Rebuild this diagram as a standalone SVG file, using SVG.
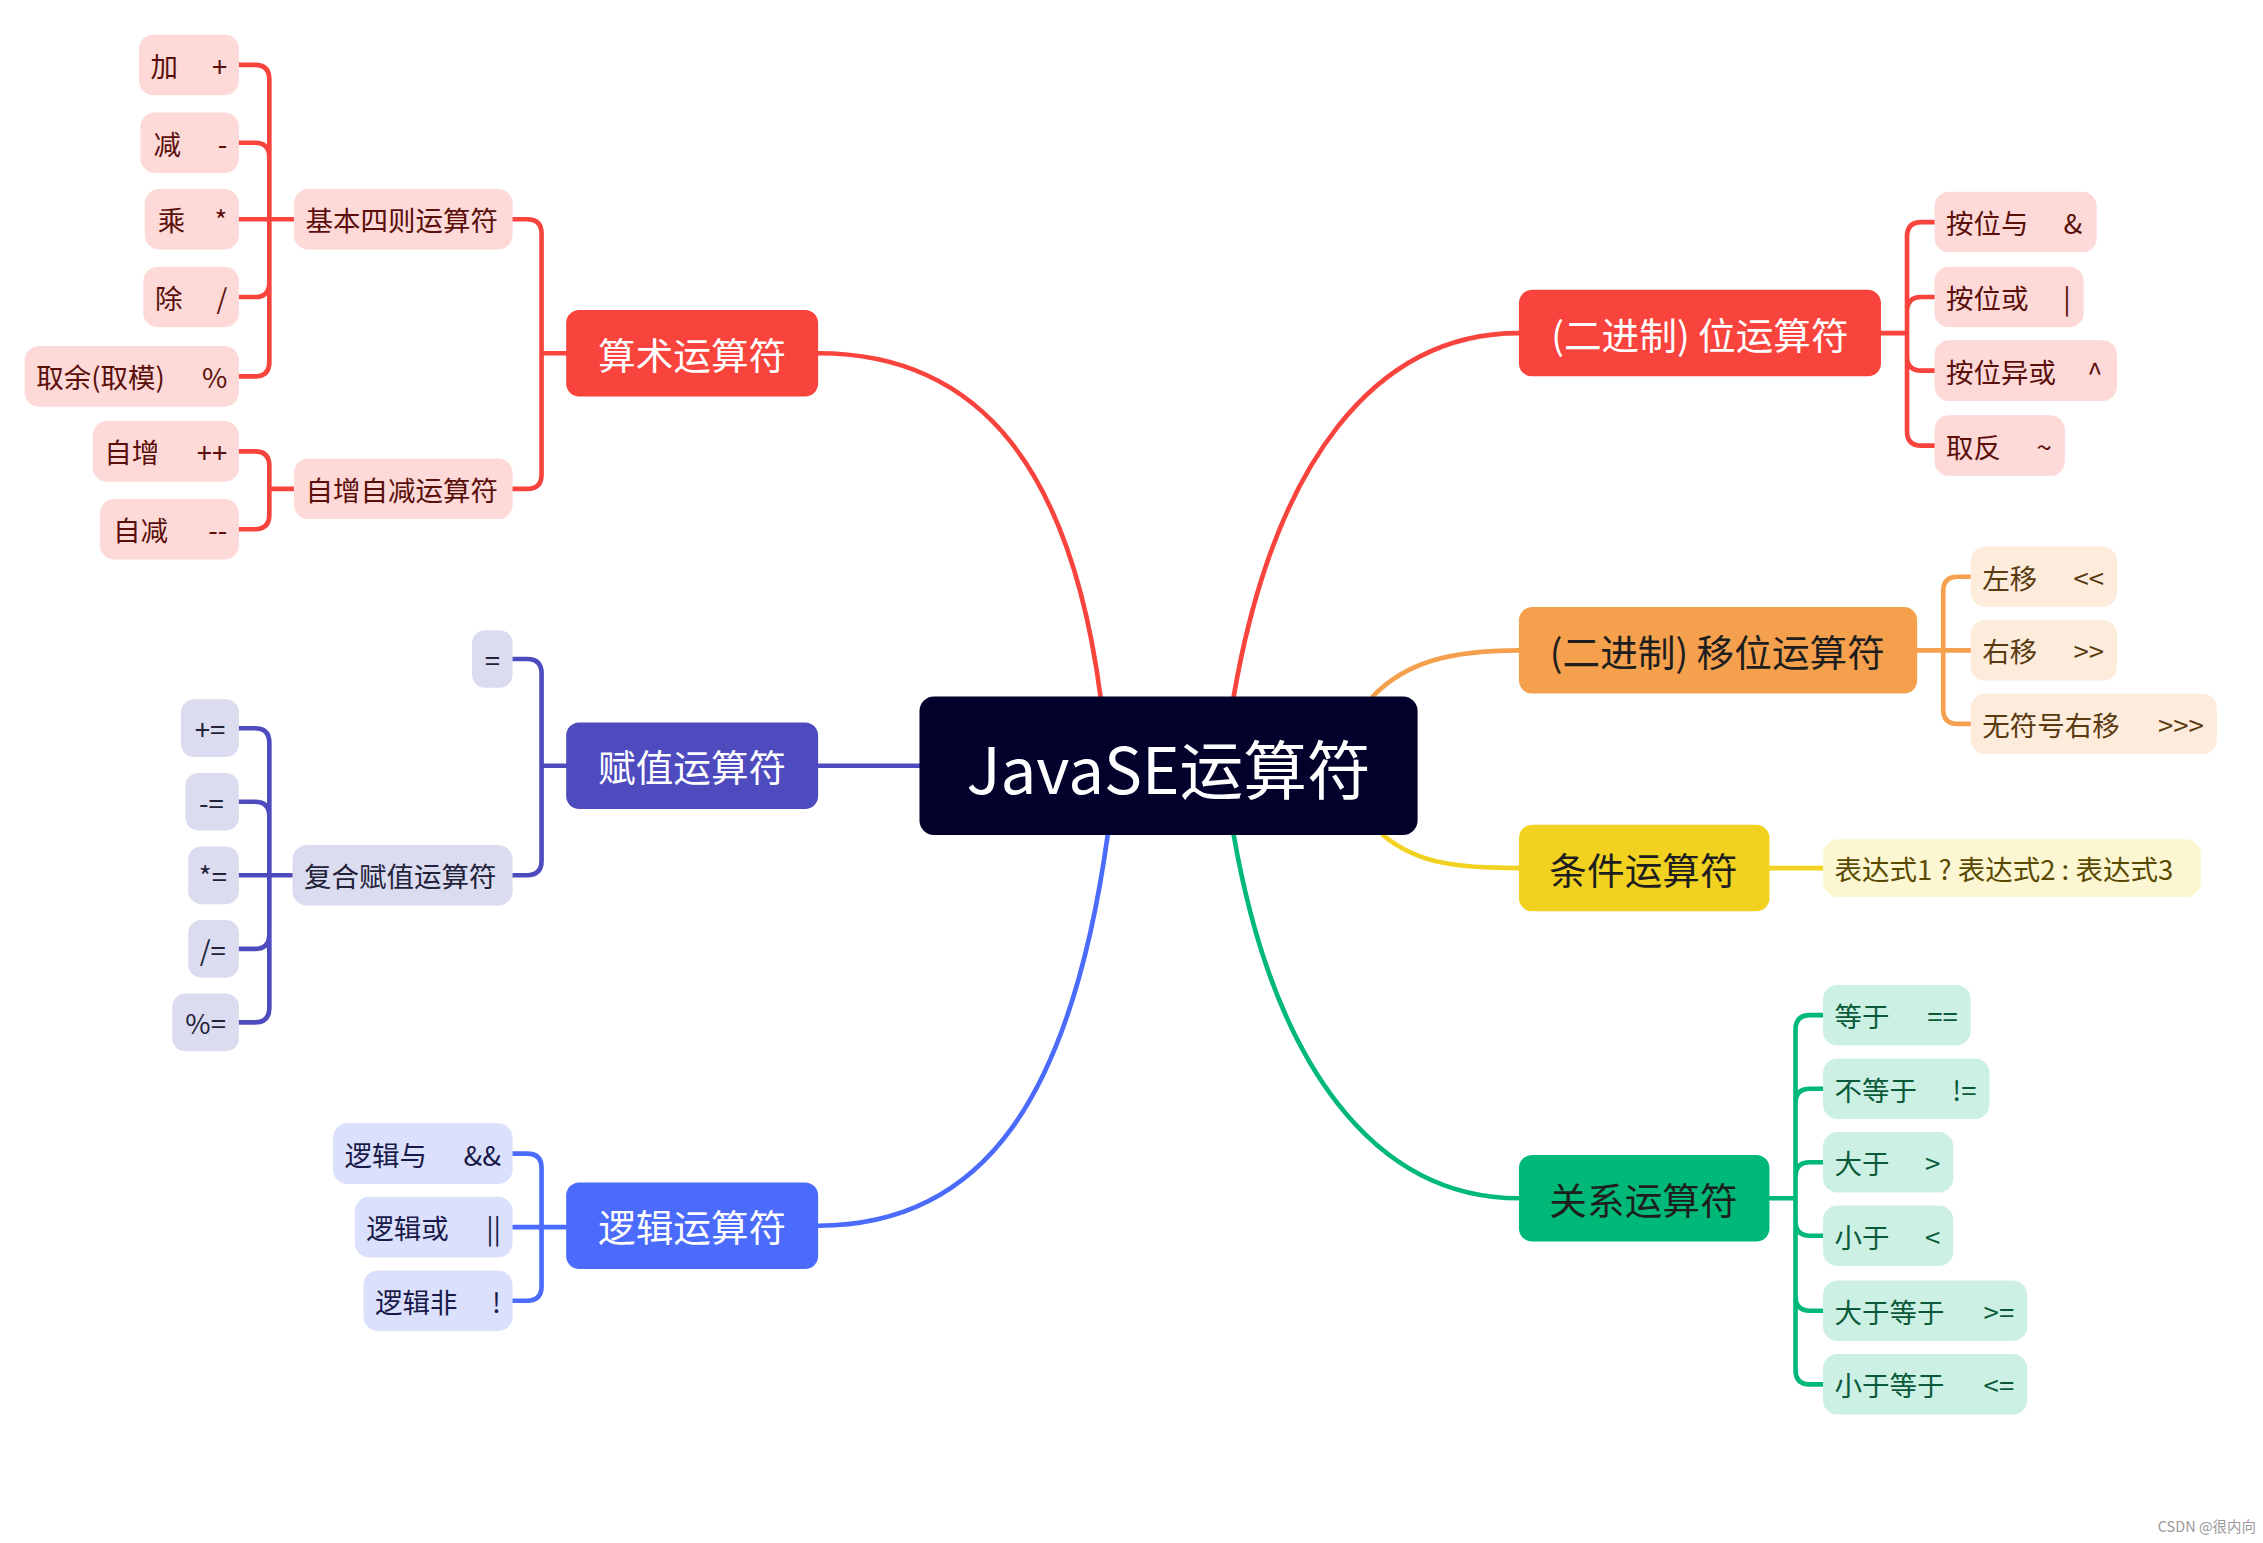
<svg xmlns="http://www.w3.org/2000/svg" width="2263" height="1543" viewBox="0 0 2263 1543">
<style>
text{font-family:"Noto Sans CJK SC","Noto Sans",sans-serif;dominant-baseline:central}
.c{fill:none;stroke-width:3.2;stroke-linecap:round}
.m{font-size:26px;text-anchor:middle}
.l{font-size:19px}
.r{font-size:19px;text-anchor:end}
.red{stroke:#f9433d}.pur{stroke:#4e4bbf}.blu{stroke:#4a6bfc}.ora{stroke:#f4a04c}.yel{stroke:#f2d220}.grn{stroke:#00b877}
.pk rect{fill:#fdd9d8}.pk text{fill:#5a0f0a}
.lv rect{fill:#dcdcf0}.lv text{fill:#22223a}
.lb rect{fill:#dbe1fd}.lb text{fill:#1a1a4a}
.or rect{fill:#fdebdb}.or text{fill:#5a3a10}
.ye rect{fill:#fdf6d3}.ye text{fill:#5a4a00}
.gr rect{fill:#ccf1e4}.gr text{fill:#0a5a3a}
</style>
<rect width="2263" height="1543" fill="#fff"/>
<g transform="scale(1.448,1.442)">
<g id="connectors">
<path class="c red" d="M760,483 C740,330 680,245 565,245"/>
<path class="c pur" d="M565,531 H635"/>
<path class="c blu" d="M765,579 C740,760 680,850 565,850"/>
<path class="c red" d="M852,483 C880,320 950,231 1049,231"/>
<path class="c ora" d="M948,483 C970,460 1000,451 1049,451"/>
<path class="c yel" d="M955,579 C980,600 1010,602 1049,602"/>
<path class="c grn" d="M852,579 C880,740 950,831 1049,831"/>
<path class="c red" d="M391,245 H374 M354,152 H364 Q374,152 374,162 V329 Q374,339 364,339 H354"/>
<path class="c red" d="M203,152 H165 M165,45 H176 Q186,45 186,55 V251 Q186,261 176,261 H165 M165,99 H176 Q186,99 186,109 M165,206 H176 Q186,206 186,196"/>
<path class="c red" d="M203,339 H186 M165,313 H176 Q186,313 186,323 V357 Q186,367 176,367 H165"/>
<path class="c pur" d="M391,531 H374 M354,457 H364 Q374,457 374,467 V597 Q374,607 364,607 H354"/>
<path class="c pur" d="M202,607 H165 M165,505 H176 Q186,505 186,515 V699 Q186,709 176,709 H165 M165,556 H176 Q186,556 186,566 M165,658 H176 Q186,658 186,648"/>
<path class="c blu" d="M391,851 H354 M354,800 H364 Q374,800 374,810 V892 Q374,902 364,902 H354"/>
<path class="c red" d="M1299,231 H1317 M1336,154 H1327 Q1317,154 1317,164 V299 Q1317,309 1327,309 H1336 M1336,206 H1327 Q1317,206 1317,216 M1336,257 H1327 Q1317,257 1317,247"/>
<path class="c ora" d="M1324,451 H1361 M1361,400 H1352 Q1342,400 1342,410 V492 Q1342,502 1352,502 H1361"/>
<path class="c yel" d="M1222,602 H1259"/>
<path class="c grn" d="M1222,831 H1240 M1259,704 H1250 Q1240,704 1240,714 V950 Q1240,960 1250,960 H1259 M1259,755 H1250 Q1240,755 1240,765 M1259,806 H1250 Q1240,806 1240,816 M1259,857 H1250 Q1240,857 1240,847 M1259,909 H1250 Q1240,909 1240,899"/>
</g>
<g id="root"><rect x="635" y="483" width="344" height="96" rx="10" fill="#01012b"/><text x="807" y="531" font-size="44" text-anchor="middle" fill="#fff">JavaSE运算符</text></g>
<g id="arith"><rect x="391" y="215" width="174" height="60" rx="9" fill="#f9433d"/><text class="m" x="478" y="245" fill="#fff">算术运算符</text></g>
<g id="assign"><rect x="391" y="501" width="174" height="60" rx="9" fill="#4e4bbf"/><text class="m" x="478" y="531" fill="#fff">赋值运算符</text></g>
<g id="logic"><rect x="391" y="820" width="174" height="60" rx="9" fill="#4a6bfc"/><text class="m" x="478" y="850" fill="#fff">逻辑运算符</text></g>
<g id="bit"><rect x="1049" y="201" width="250" height="60" rx="9" fill="#f9433d"/><text class="m" x="1174" y="231" fill="#fff">(二进制) 位运算符</text></g>
<g id="shift"><rect x="1049" y="421" width="275" height="60" rx="9" fill="#f4a04c"/><text class="m" x="1186" y="451" fill="#1e1e1e">(二进制) 移位运算符</text></g>
<g id="cond"><rect x="1049" y="572" width="173" height="60" rx="9" fill="#f2d220"/><text class="m" x="1135" y="602" fill="#1e1e1e">条件运算符</text></g>
<g id="rel"><rect x="1049" y="801" width="173" height="60" rx="9" fill="#00b877"/><text class="m" x="1135" y="831" fill="#1e1e1e">关系运算符</text></g>

<g class="pk">
<g id="basic4"><rect x="203" y="131" width="151" height="42" rx="10"/><text class="l" x="211" y="152">基本四则运算符</text></g>
<g id="incdec"><rect x="203" y="318" width="151" height="42" rx="10"/><text class="l" x="211" y="339">自增自减运算符</text></g>
<g id="add"><rect x="96" y="24" width="69" height="42" rx="10"/><text class="l" x="104" y="45">加</text><text class="r" x="157" y="45">+</text></g>
<g id="sub"><rect x="97" y="78" width="68" height="42" rx="10"/><text class="l" x="106" y="99">减</text><text class="r" x="157" y="99">-</text></g>
<g id="mul"><rect x="100" y="131" width="65" height="42" rx="10"/><text class="l" x="109" y="152">乘</text><text class="r" x="157" y="152">*</text></g>
<g id="div"><rect x="99" y="185" width="66" height="42" rx="10"/><text class="l" x="107" y="206">除</text><text class="r" x="157" y="206">/</text></g>
<g id="mod"><rect x="17" y="240" width="148" height="42" rx="10"/><text class="l" x="25" y="261">取余(取模)</text><text class="r" x="157" y="261">%</text></g>
<g id="inc"><rect x="64" y="292" width="101" height="42" rx="10"/><text class="l" x="72" y="313">自增</text><text class="r" x="157" y="313">++</text></g>
<g id="dec"><rect x="69" y="346" width="96" height="42" rx="10"/><text class="l" x="78" y="367">自减</text><text class="r" x="157" y="367">--</text></g>
<g id="band"><rect x="1336" y="133" width="112" height="42" rx="10"/><text class="l" x="1344" y="154">按位与</text><text class="r" x="1438" y="154">&amp;</text></g>
<g id="bor"><rect x="1336" y="185" width="103" height="42" rx="10"/><text class="l" x="1344" y="206">按位或</text><text class="r" x="1430" y="206">|</text></g>
<g id="bxor"><rect x="1336" y="236" width="126" height="42" rx="10"/><text class="l" x="1344" y="257">按位异或</text><text class="r" x="1452" y="257">^</text></g>
<g id="bnot"><rect x="1336" y="288" width="90" height="42" rx="10"/><text class="l" x="1344" y="309">取反</text><text class="r" x="1417" y="309">~</text></g>
</g>

<g class="lv">
<g id="eq"><rect x="326" y="437" width="28" height="40" rx="9"/><text class="l" x="340" y="457" text-anchor="middle">=</text></g>
<g id="compound"><rect x="202" y="586" width="152" height="42" rx="10"/><text class="l" x="210" y="607">复合赋值运算符</text></g>
<g id="pe"><rect x="125" y="485" width="40" height="40" rx="9"/><text class="l" x="145" y="505" text-anchor="middle">+=</text></g>
<g id="me"><rect x="128" y="536" width="37" height="40" rx="9"/><text class="l" x="146" y="556" text-anchor="middle">-=</text></g>
<g id="te"><rect x="130" y="587" width="35" height="40" rx="9"/><text class="l" x="147" y="607" text-anchor="middle">*=</text></g>
<g id="de"><rect x="130" y="638" width="35" height="40" rx="9"/><text class="l" x="147" y="658" text-anchor="middle">/=</text></g>
<g id="mo"><rect x="119" y="689" width="46" height="40" rx="9"/><text class="l" x="142" y="709" text-anchor="middle">%=</text></g>
</g>

<g class="lb">
<g id="land"><rect x="230" y="779" width="124" height="42" rx="10"/><text class="l" x="238" y="800">逻辑与</text><text class="r" x="346" y="800">&amp;&amp;</text></g>
<g id="lor"><rect x="245" y="830" width="109" height="42" rx="10"/><text class="l" x="253" y="851">逻辑或</text><text class="r" x="346" y="851">||</text></g>
<g id="lnot"><rect x="251" y="881" width="103" height="42" rx="10"/><text class="l" x="259" y="902">逻辑非</text><text class="r" x="346" y="902">!</text></g>
</g>

<g class="or">
<g id="shl"><rect x="1361" y="379" width="101" height="42" rx="10"/><text class="l" x="1369" y="400">左移</text><text class="r" x="1453" y="400">&lt;&lt;</text></g>
<g id="shr"><rect x="1361" y="430" width="101" height="42" rx="10"/><text class="l" x="1369" y="451">右移</text><text class="r" x="1453" y="451">&gt;&gt;</text></g>
<g id="ushr"><rect x="1361" y="481" width="170" height="42" rx="10"/><text class="l" x="1369" y="502">无符号右移</text><text class="r" x="1522" y="502">&gt;&gt;&gt;</text></g>
</g>

<g class="ye"><g id="ternary"><rect x="1259" y="582" width="261" height="40" rx="10"/><text class="l" x="1267" y="602">表达式1 ? 表达式2 : 表达式3</text></g></g>

<g class="gr">
<g id="req"><rect x="1259" y="683" width="102" height="42" rx="10"/><text class="l" x="1267" y="704">等于</text><text class="r" x="1352" y="704">==</text></g>
<g id="rne"><rect x="1259" y="734" width="115" height="42" rx="10"/><text class="l" x="1267" y="755">不等于</text><text class="r" x="1365" y="755">!=</text></g>
<g id="rgt"><rect x="1259" y="785" width="90" height="42" rx="10"/><text class="l" x="1267" y="806">大于</text><text class="r" x="1340" y="806">&gt;</text></g>
<g id="rlt"><rect x="1259" y="836" width="90" height="42" rx="10"/><text class="l" x="1267" y="857">小于</text><text class="r" x="1340" y="857">&lt;</text></g>
<g id="rge"><rect x="1259" y="888" width="141" height="42" rx="10"/><text class="l" x="1267" y="909">大于等于</text><text class="r" x="1391" y="909">&gt;=</text></g>
<g id="rle"><rect x="1259" y="939" width="141" height="42" rx="10"/><text class="l" x="1267" y="960">小于等于</text><text class="r" x="1391" y="960">&lt;=</text></g>
</g>
<text x="1558" y="1058" font-size="10" text-anchor="end" fill="#999">CSDN @很内向</text>
</g>
</svg>
